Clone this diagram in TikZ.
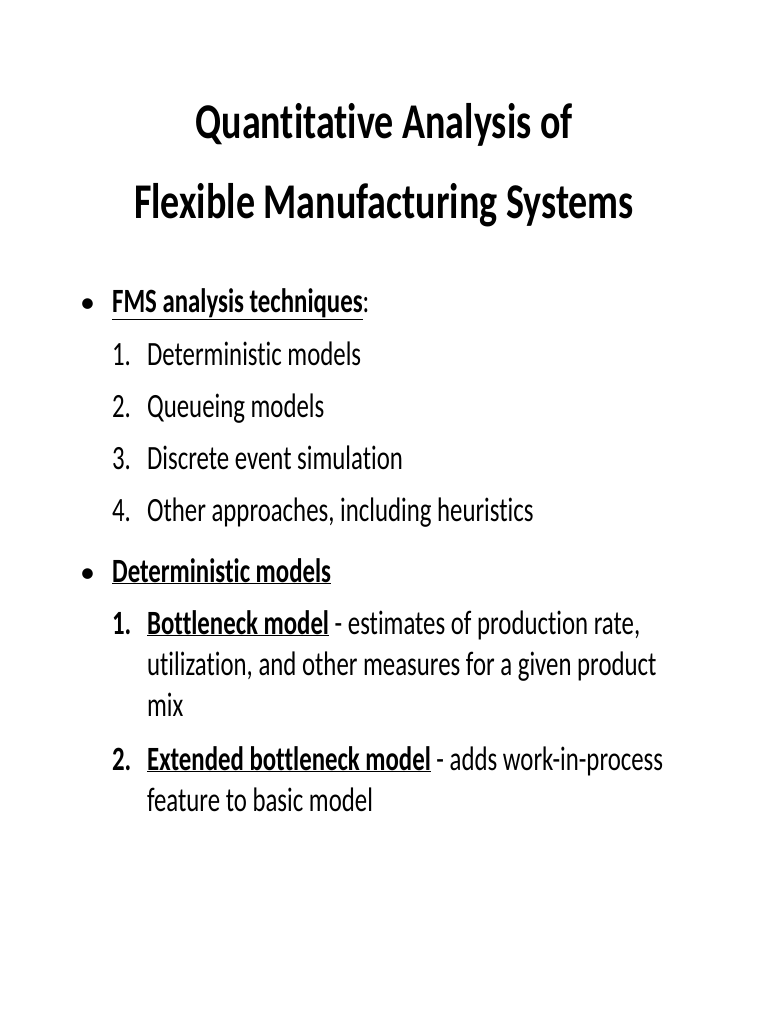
\documentclass[tikz,border=0pt]{standalone}
\usepackage{fontspec}
\setmainfont[Ligatures={NoCommon}]{Carlito}
\begin{document}
\begin{tikzpicture}[x=1pt,y=-1pt,
  ttl/.style={font=\fontsize{50}{56}\selectfont\bfseries, xscale=0.76, transform shape, inner sep=0pt},
  txt/.style={font=\fontsize{34}{40}\selectfont, xscale=0.73, transform shape, anchor=base west, inner sep=0pt},
  bul/.style={font=\fontsize{30}{36}\selectfont, anchor=base west, inner sep=0pt}]
\useasboundingbox[fill=white] (0,0) rectangle (768,1024);
\node[ttl] (t1) at (384,125) {Quantitative Analysis of};
\node[ttl] (t2) at (384,205) {Flexible Manufacturing Systems};
\node[bul] (b1) at (80,312) {•};
\node[txt] (h1) at (112,312) {\underline{\textbf{FMS analysis techniques}}:};
\node[txt] (n1) at (112,365) {1.};
\node[txt] (i1) at (147,365) {Deterministic models};
\node[txt] (n2) at (112,417) {2.};
\node[txt] (i2) at (147,417) {Queueing models};
\node[txt] (n3) at (112,469) {3.};
\node[txt] (i3) at (147,469) {Discrete event simulation};
\node[txt] (n4) at (112,521) {4.};
\node[txt] (i4) at (147,521) {Other approaches, including heuristics};
\node[bul] (b2) at (80,582) {•};
\node[txt] (h2) at (112,582) {\underline{\textbf{Deterministic models}}};
\node[txt] (m1) at (112,634) {\textbf{1.}};
\node[txt] (j1) at (147,634) {\underline{\textbf{Bottleneck model}} - estimates of production rate,};
\node[txt] (j1b) at (147,675) {utilization, and other measures for a given product};
\node[txt] (j1c) at (147,716) {mix};
\node[txt] (m2) at (112,770) {\textbf{2.}};
\node[txt] (j2) at (147,770) {\underline{\textbf{Extended bottleneck model}} - adds work-in-process};
\node[txt] (j2b) at (147,811) {feature to basic model};
\end{tikzpicture}
\end{document}
